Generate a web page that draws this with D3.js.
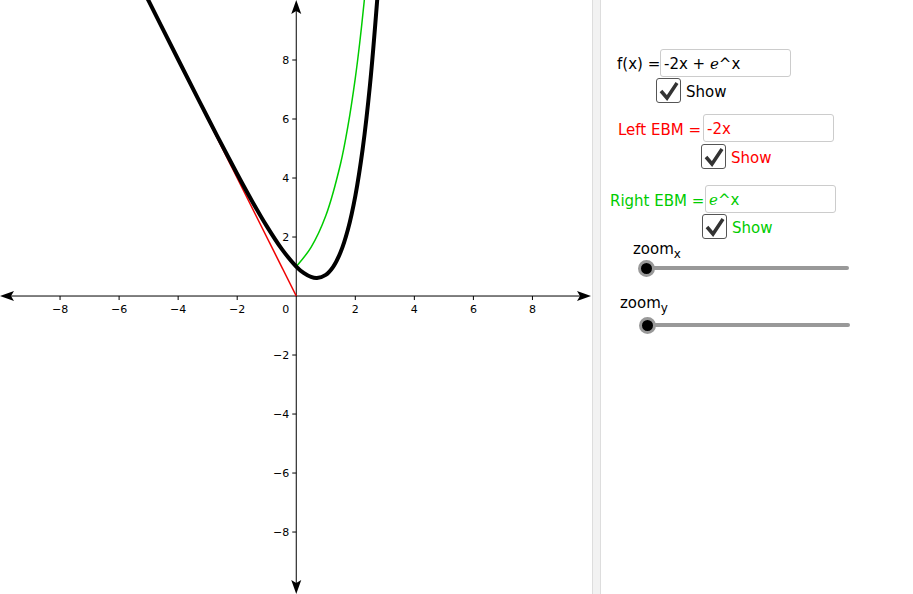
<!DOCTYPE html>
<html><head><meta charset="utf-8">
<script src="https://cdn.jsdelivr.net/npm/d3@7"></script>
<style>
body{margin:0;width:913px;height:594px;overflow:hidden;background:#fff;font-family:"DejaVu Sans",sans-serif;position:relative}
.t{position:absolute;font-size:15px;white-space:nowrap}
.inp{position:absolute;border:1px solid #ccc;border-radius:3px;height:28px;font-size:15px;line-height:28px;padding-left:3px;box-sizing:border-box;background:#fff}
.cb{position:absolute;width:25px;height:25px;border:1px solid #555;border-radius:3px;box-sizing:border-box}
.cb svg{position:absolute;left:1px;top:1px}
.sl{position:absolute;height:4px;background:#999;border-radius:2px}
.kn{position:absolute;width:11px;height:11px;background:#000;border:3px solid #999;border-radius:50%}
i.e{font-family:"DejaVu Serif",serif}
</style></head><body>
<svg id="c" width="592" height="594" style="position:absolute;left:0;top:0"></svg>
<div style="position:absolute;left:592px;top:0;width:7px;height:594px;background:#f2f2f2;border-left:1px solid #ddd;border-right:1px solid #ddd"></div>

<div class="t" style="left:617px;top:55px">f(x) =</div>
<div class="inp" style="left:660px;top:49px;width:131px">-2x + <i class="e">e</i>^x</div>
<div class="cb" style="left:656px;top:78px"><svg width="22" height="22"><path d="M3,11 L9,18 L19,3" fill="none" stroke="#333" stroke-width="3.5"/></svg></div>
<div class="t" style="left:686px;top:83px">Show</div>

<div class="t" style="left:618px;top:121px;color:#f00">Left EBM =</div>
<div class="inp" style="left:703px;top:114px;width:131px;color:#f00">-2x</div>
<div class="cb" style="left:701px;top:144px"><svg width="22" height="22"><path d="M3,11 L9,18 L19,3" fill="none" stroke="#333" stroke-width="3.5"/></svg></div>
<div class="t" style="left:731px;top:149px;color:#f00">Show</div>

<div class="t" style="left:610px;top:192px;color:#0c0">Right EBM =</div>
<div class="inp" style="left:705px;top:185px;width:131px;color:#0c0"><i class="e">e</i>^x</div>
<div class="cb" style="left:702px;top:214px"><svg width="22" height="22"><path d="M3,11 L9,18 L19,3" fill="none" stroke="#333" stroke-width="3.5"/></svg></div>
<div class="t" style="left:732px;top:219px;color:#0c0">Show</div>

<div class="t" style="left:633px;top:240px">zoom<sub style="font-size:12px">x</sub></div>
<div class="sl" style="left:646px;top:266px;width:203px"></div>
<div class="kn" style="left:638px;top:260px"></div>
<div class="t" style="left:620px;top:294px">zoom<sub style="font-size:12px">y</sub></div>
<div class="sl" style="left:647px;top:323px;width:203px"></div>
<div class="kn" style="left:639px;top:317px"></div>

<script>
const ticks=[-8,-6,-4,-2,2,4,6,8];
const fX=[-5.2,-4,-3,-2,-1.5,-1,-0.5,0,0.25,0.5,0.7,1,1.25,1.5,1.75,2,2.25,2.5,2.75];
const fY=[10.406,8.018,6.050,4.135,3.223,2.368,1.607,1,0.784,0.649,0.614,0.718,0.990,1.482,2.255,3.389,4.988,7.182,10.14];
const gX=[0,0.5,1,1.5,1.75,2,2.15,2.3,2.35];
const gY=[1,1.649,2.718,4.482,5.755,7.389,8.585,9.974,10.49];
const rX=[-5.2,0];
const rY=[10.4,0];

const svg=d3.select("#c");
const x=d3.scaleLinear().domain([-10.034,10]).range([0,591.5]);
const y=d3.scaleLinear().domain([10.034,-10.1]).range([0,594]);
const X0=x(0),Y0=y(0);
svg.append("defs").append("clipPath").attr("id","cp").append("rect").attr("width",591).attr("height",594);
const g=svg.append("g").attr("clip-path","url(#cp)");
// axes
g.append("line").attr("x1",4).attr("x2",588).attr("y1",Y0).attr("y2",Y0).attr("stroke","#000");
g.append("line").attr("x1",X0).attr("x2",X0).attr("y1",4).attr("y2",590).attr("stroke","#000");
const arr=(p)=>g.append("path").attr("d",p).attr("fill","#000");
arr(`M591,${Y0} l-14,-5 l3,5 l-3,5z`);
arr(`M0,${Y0} l14,-5 l-3,5 l3,5z`);
arr(`M${X0},0 l-5,14 l5,-3 l5,3z`);
arr(`M${X0},594 l-5,-14 l5,3 l5,-3z`);
ticks.forEach(t=>{
  g.append("line").attr("x1",x(t)).attr("x2",x(t)).attr("y1",Y0).attr("y2",Y0+4).attr("stroke","#000");
  g.append("text").attr("x",x(t)).attr("y",Y0+17).attr("text-anchor","middle").attr("font-size",11).attr("font-family","DejaVu Sans").text(t<0?"\u2212"+(-t):t);
  g.append("line").attr("x1",X0-4).attr("x2",X0).attr("y1",y(t)).attr("y2",y(t)).attr("stroke","#000");
  g.append("text").attr("x",X0-7).attr("y",y(t)+4).attr("text-anchor","end").attr("font-size",11).attr("font-family","DejaVu Sans").text(t<0?"\u2212"+(-t):t);
});
g.append("text").attr("x",X0-7).attr("y",Y0+17).attr("text-anchor","end").attr("font-size",11).attr("font-family","DejaVu Sans").text("0");
const ln=d3.line().x(d=>x(d[0])).y(d=>y(d[1])).curve(d3.curveCatmullRom);
g.append("path").attr("d",ln(d3.zip(rX,rY))).attr("fill","none").attr("stroke","#e00").attr("stroke-width",1.5);
g.append("path").attr("d",ln(d3.zip(gX,gY))).attr("fill","none").attr("stroke","#0c0").attr("stroke-width",1.5);
g.append("path").attr("d",ln(d3.zip(fX,fY))).attr("fill","none").attr("stroke","#000").attr("stroke-width",4);
</script>
</body></html>
